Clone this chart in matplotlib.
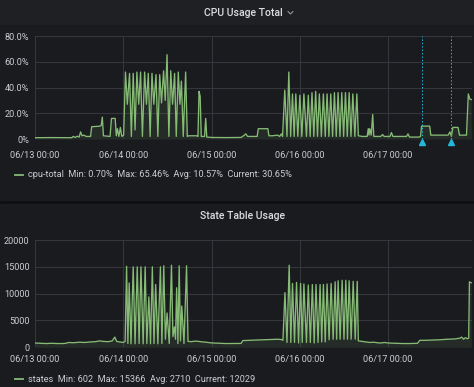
import pandas as pd
import matplotlib
matplotlib.use('Agg')
import matplotlib.pyplot as plt
import matplotlib.dates as mdates
from matplotlib.lines import Line2D
from matplotlib.patches import Rectangle

plt.rcParams['font.family'] = ['Roboto', 'DejaVu Sans']

# time axis: hours after 06/13 00:00
t0 = pd.Timestamp('2020-06-13 00:00')
t_end_h = 118.8

# CPU usage total (%)
cpu_hours = [0, 4, 8, 9.96, 10.4, 10.9, 11.5, 12.0, 12.4, 12.8, 13.3, 13.9, 15.1, 15.4,
             17.7, 18.0, 18.3, 18.6, 20.4, 20.8, 21.8, 22.1, 22.4, 22.8, 23.2, 23.6, 24.1,
             24.6, 25.1, 25.7, 26.2, 26.7, 27.2, 27.7, 28.2, 28.7, 29.2, 29.8, 30.3, 30.8,
             31.3, 31.8, 32.3, 32.9, 33.4, 33.9, 34.4, 34.95, 35.4, 35.9, 36.4, 36.9, 37.4,
             37.95, 38.4, 38.95, 39.4, 39.8, 40.3, 40.95, 41.4,
             41.8, 44.0, 44.3, 44.6, 44.9, 45.2, 46.1, 46.4, 46.7, 48.0, 52.0, 56.0, 56.7,
             57.3, 57.8, 60.4, 60.7, 63.3, 63.6, 64.5, 66.0, 66.5, 67.0, 67.3,
             67.9, 68.5, 69.0, 69.5, 70.0, 70.45, 70.9, 71.45, 72.0, 72.55, 73.1, 73.4,
             73.8, 74.3, 74.8, 75.3, 75.8, 76.3, 76.8, 77.3, 77.85, 78.4, 78.9, 79.4,
             79.9, 80.4, 80.9, 81.4, 81.9, 82.4, 82.9, 83.4, 83.9, 84.4, 84.9, 85.4,
             85.9, 86.4, 86.95, 87.5, 87.9,
             89.0, 90.3, 90.6, 90.8, 91.0, 91.4, 91.8, 92.1, 94.0, 94.5, 94.9, 96.5,
             96.9, 97.3, 101.0, 101.4, 101.8, 104.4, 104.8, 105.1, 107.3, 107.6, 110.0,
             112.3, 112.8, 113.2, 113.6, 113.9, 115.0, 115.4, 117.3, 117.8, 118.2, 118.6]
cpu_vals = [1.0, 1.1, 1.0, 1.0, 2.0, 1.2, 2.2, 1.5, 5.5, 2.5, 3.0, 2.0, 2.0, 9.5,
            10.0, 10.5, 17.0, 2.5, 2.0, 16.0, 16.0, 2.5, 8.0, 2.0, 9.0, 2.0, 3.0,
            52, 27, 51, 2, 51, 7, 52, 27, 52, 2, 52, 27, 51,
            2, 51, 27, 50, 2, 50, 28, 53, 30, 65.5, 2, 53, 27,
            51, 2, 52, 27, 45, 2, 52, 2,
            2.5, 2.5, 2.0, 37, 33, 2.0, 2.0, 16, 1.5, 1.2, 1.1, 1.2, 2.5,
            4.0, 2.0, 2.0, 8.0, 8.0, 2.5, 2.5, 3.0, 2.0, 4.0, 2.0,
            38, 2, 52, 2, 35, 2, 35, 2, 34, 2, 35, 21,
            2, 34, 2, 36, 2, 37, 2, 35, 2, 35, 2, 35,
            2, 35, 2, 36, 2, 36, 2, 36, 2, 36, 2, 36,
            2, 35, 2, 35, 2.5,
            2.0, 2.0, 8.0, 3.0, 8.0, 3.0, 19, 2.0, 2.0, 3.5, 2.0, 2.0,
            5.0, 2.0, 2.0, 4.0, 1.5, 1.5, 2.0, 10.0, 10.0, 3.0, 3.0,
            3.0, 5.5, 2.0, 9.0, 9.0, 9.0, 3.0, 3.0, 35, 31, 30.65]

# state table entries
states_hours = [0, 1.5, 3, 4.5, 6, 7.5, 8.5, 9, 10.5, 12, 13.5, 15, 16.5, 17.5, 18.5,
                20, 21, 21.7, 22.2, 23, 24, 24.5,
                24.9, 25.25, 25.6, 26.1, 26.7, 27.2, 27.8, 28.3, 28.8, 29.4, 29.95, 30.4,
                30.95, 31.4, 31.9, 32.35, 32.8, 33.4, 34.1, 34.5, 35.0, 35.45, 35.9, 36.5,
                37.1, 37.5, 37.9, 38.2, 38.5, 38.85, 39.2, 39.55, 39.9, 40.5, 41.2,
                41.6, 42.5, 43.5, 44.5, 45.5, 46.5, 47.5, 48.5, 50, 52, 54, 56, 56.5,
                58, 60, 62, 64, 66, 67.0, 67.4,
                67.95, 68.5, 69.1, 69.55, 70.0, 70.55, 71.1, 71.65, 72.2, 72.65, 73.1,
                73.4, 73.8, 74.3, 74.85, 75.4, 75.9, 76.4, 76.95, 77.5, 77.95, 78.4,
                78.9, 79.4, 79.95, 80.5, 81.05, 81.6, 82.0, 82.4, 82.95, 83.5, 84.0,
                84.5, 84.95, 85.4, 85.95, 86.5, 87.05, 87.6, 87.9,
                89, 90, 91, 92, 93, 94, 95, 96, 98, 100, 102, 104, 104.6, 106, 108,
                110, 112, 114, 115.5, 116, 116.5, 117, 117.5, 117.9, 118.1, 118.6]
states_vals = [800, 750, 700, 750, 700, 700, 750, 900, 850, 950, 900, 1000, 1050, 1200, 1100,
               1050, 1200, 1900, 1100, 1000, 900, 1100,
               15100, 700, 12000, 650, 15000, 650, 15000, 700, 15000, 650, 15000, 700,
               9400, 650, 15000, 700, 11700, 650, 15000, 700, 15200, 1500, 6400, 700,
               15300, 2000, 3800, 1500, 11100, 700, 15200, 1200, 7700, 700, 15200,
               1100, 1050, 1150, 1100, 1000, 950, 850, 800, 750, 700, 700, 720, 1250,
               1300, 1350, 1400, 1450, 1500, 1450, 1300,
               10200, 900, 15300, 900, 11900, 900, 12100, 800, 11900, 900, 11800,
               6800, 900, 11600, 900, 11700, 800, 11700, 900, 11700, 1000, 11700,
               1000, 11800, 1400, 11900, 1500, 12200, 1500, 12400, 1500, 12500, 1500,
               12500, 1500, 12400, 1500, 12300, 1500, 12300, 1200,
               1100, 1000, 900, 950, 850, 800, 900, 800, 750, 700, 700, 750, 1300, 1300, 1350,
               1400, 1500, 1550, 1700, 1900, 1500, 1800, 1600, 1700, 12200, 12029]

# annotation marks on the cpu panel
annot_hours = [105.1, 113.1]

cpu_ticks = [0, 20, 40, 60, 80]
cpu_labels = ['0%', '20.0%', '40.0%', '60.0%', '80.0%']
state_ticks = [0, 5000, 10000, 15000, 20000]
state_labels = ['0', '5000', '10000', '15000', '20000']

cpu_legend = 'cpu-total  Min: 0.70%  Max: 65.46%  Avg: 10.57%  Current: 30.65%'
state_legend = 'states  Min: 602  Max: 15366  Avg: 2710  Current: 12029'

# colours
bg = '#0e0f11'
panel = '#1a1b1f'
header = '#1f2024'
grid = '#34363b'
txt = '#c9ccd1'
title_c = '#dcdde0'
green = '#86bb75'
cyan = '#22b8da'

W, H = 474, 387


def fx(px):
    return px / W


def fy(py):
    return 1 - py / H


def to_time(hours):
    return t0 + pd.to_timedelta(hours, unit='h')


fig = plt.figure(figsize=(W / 100, H / 100), dpi=100)
fig.patch.set_facecolor(bg)

# panel backgrounds
fig.add_artist(Rectangle((0, fy(200)), 1, 200 / H, transform=fig.transFigure,
                         color=panel, zorder=0))
fig.add_artist(Rectangle((0, fy(24)), 1, 24 / H, transform=fig.transFigure,
                         color=header, zorder=0))
fig.add_artist(Rectangle((0, 0), 1, fy(204), transform=fig.transFigure,
                         color=panel, zorder=0))


def style_axes(ax, ticks, labels, ymax, xpad):
    ax.set_facecolor(panel)
    for s in ax.spines.values():
        s.set_visible(False)
    ax.set_xlim(to_time(0), to_time(t_end_h))
    ax.set_ylim(0, ymax)
    ax.set_yticks(ticks, labels)
    ax.xaxis.set_major_locator(mdates.DayLocator())
    ax.xaxis.set_major_formatter(mdates.DateFormatter('%m/%d %H:%M'))
    ax.grid(True, color=grid, lw=0.8)
    ax.set_axisbelow(True)
    ax.tick_params(axis='both', length=0, colors=txt, labelsize=6.6)
    ax.tick_params(axis='x', pad=xpad)
    ax.tick_params(axis='y', pad=4)


ax1 = fig.add_axes([fx(35), fy(139), fx(437), 103 / H])
style_axes(ax1, cpu_ticks, cpu_labels, 80, 8.5)
t = to_time(cpu_hours)
ax1.fill_between(t, cpu_vals, color=green, alpha=0.1, lw=0)
ax1.plot(t, cpu_vals, color=green, lw=0.95)

for h in annot_hours:
    ax1.axvline(to_time(h), color=cyan, lw=0.7, ls=(0, (1.5, 2)), zorder=3)
    ax1.plot([to_time(h)], [-2.3], marker='^', ms=4.5, color=cyan, mec=cyan,
             clip_on=False, zorder=4)

ax2 = fig.add_axes([fx(35), fy(347.3), fx(437), 107.3 / H])
style_axes(ax2, state_ticks, state_labels, 20000, 5.5)
t = to_time(states_hours)
ax2.fill_between(t, states_vals, color=green, alpha=0.1, lw=0)
ax2.plot(t, states_vals, color=green, lw=0.95)

# panel titles
fig.text(fx(243), fy(12.7), 'CPU Usage Total', ha='center', va='center',
         fontsize=7.6, color=title_c, fontweight='medium')
fig.add_artist(Line2D([fx(288), fx(290.5), fx(293)], [fy(11.5), fy(14), fy(11.5)],
                      transform=fig.transFigure, color='#9fa3a8', lw=0.7))
fig.text(fx(243), fy(216), 'State Table Usage', ha='center', va='center',
         fontsize=7.6, color=title_c, fontweight='medium')

# legends
for y, label in [(174.5, cpu_legend), (379, state_legend)]:
    fig.add_artist(Line2D([fx(15), fx(23)], [fy(y), fy(y)], transform=fig.transFigure,
                          color=green, lw=1.3))
    fig.text(fx(28), fy(y), label, ha='left', va='center', fontsize=6.6, color=txt)

fig.savefig('out.png', dpi=100, facecolor=bg)
